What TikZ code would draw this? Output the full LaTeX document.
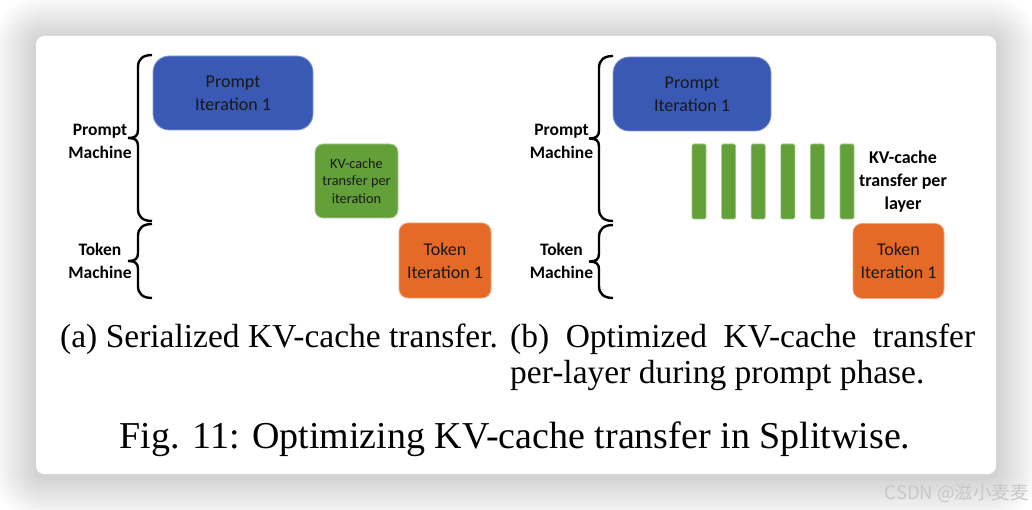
\documentclass[tikz,border=0pt]{standalone}
\usepackage{fontspec}
\setmainfont{Liberation Serif}
\newfontfamily\calibri{Carlito}
\newfontfamily\cjk{Noto Sans CJK SC}
\definecolor{pblue}{RGB}{57,89,180}
\definecolor{pgreen}{RGB}{99,160,57}
\definecolor{porange}{RGB}{229,105,39}
\definecolor{wmark}{RGB}{200,200,200}
\newcommand\drawbrace[3]{%
  \pgfmathsetmacro\brM{(#2+#3)/2}%
  \pgfmathsetmacro\brL{#1-14}%
  \pgfmathsetmacro\brC{#1-24}%
  \draw[bracestyle] (#1,#2) .. controls (#1-9,#2) and (\brL,#2+4) .. (\brL,#2+12)
    -- (\brL,\brM-8) .. controls (\brL,\brM-2) and (\brL-3,\brM) .. (\brC,\brM)
    .. controls (\brL-3,\brM) and (\brL,\brM+2) .. (\brL,\brM+8)
    -- (\brL,#3-12) .. controls (\brL,#3-4) and (#1-9,#3) .. (#1,#3);
}
\tikzset{
  box/.style={rectangle, align=center, inner sep=0pt, text=black!90,
    font=\calibri\fontsize{18}{22.7}\selectfont},
  bluebox/.style={box, fill=pblue, draw=pblue!60!white, line width=0.8pt,
    rounded corners=16pt, minimum height=74pt},
  orangebox/.style={box, fill=porange, draw=porange!60!white, line width=0.8pt,
    rounded corners=9pt, minimum height=75pt},
  greenbox/.style={box, fill=pgreen, draw=pgreen!55!white, line width=0.8pt,
    rounded corners=8pt, minimum width=83pt, minimum height=74pt,
    font=\calibri\fontsize{14.3}{17.5}\selectfont},
  barbox/.style={rectangle, fill=pgreen, draw=pgreen!60!white, line width=0.6pt,
    rounded corners=1.5pt, minimum width=14pt, minimum height=75pt, inner sep=0pt},
  machlabel/.style={align=center, inner sep=0pt,
    font=\calibri\bfseries\fontsize{17.5}{23}\selectfont},
  bracestyle/.style={line width=2.4pt, black},
  subcap/.style={inner sep=0pt, font=\fontsize{33.5}{36}\selectfont},
  figcap/.style={inner sep=0pt, font=\fontsize{38}{40}\selectfont},
}
\begin{document}
\begin{tikzpicture}[x=1pt,y=-1pt]
\useasboundingbox (0,0) rectangle (1032,510);
\fill[white] (0,0) rectangle (1032,510);
% shadow
\foreach \i in {1,...,44}{
  \fill[black, opacity=0.005, rounded corners={8+\i}] (36-\i,36-\i+3) rectangle (996+\i,474+\i+3);
}
% card
\fill[white, rounded corners=8pt] (36,36) rectangle (996,474);

% ---------- panel (a)
\node[bluebox, minimum width=160pt] (pa) at (233,93) {Prompt\\Iteration 1};
\node[greenbox] (ga) at (356.5,181) {KV-cache\\transfer per\\iteration};
\node[orangebox, minimum width=92pt] (ta) at (445,260.5) {Token\\Iteration 1};
\node[machlabel] (lpa) at (100,141) {Prompt\\Machine};
\node[machlabel] (lta) at (100,261) {Token\\Machine};
\drawbrace{152}{55}{221}
\drawbrace{152}{224}{298}

% ---------- panel (b)
\node[bluebox, minimum width=158pt] (pb) at (692,94) {Prompt\\Iteration 1};
\foreach \k in {0,...,5}{
  \node[barbox] (bar\k) at (699+29.6*\k,181.5) {};
}
\node[machlabel, font=\calibri\bfseries\fontsize{18}{23}\selectfont] (kvb) at (903,182) {KV-cache\\transfer per\\layer};
\node[orangebox, minimum width=91pt] (tb) at (898.5,261) {Token\\Iteration 1};
\node[machlabel] (lpb) at (561.5,141) {Prompt\\Machine};
\node[machlabel] (ltb) at (561.5,261) {Token\\Machine};
\drawbrace{613}{56}{221}
\drawbrace{613}{225}{298}

% ---------- captions
\node[subcap, anchor=base west] (capa) at (60,347) {(a) Serialized KV-cache transfer.};
\node[subcap, anchor=base west] (capb1) at (510,347) {\makebox[465pt][s]{(b) Optimized KV-cache transfer}};
\node[subcap, anchor=base west] (capb2) at (510,383) {per-layer during prompt phase.};
\node[figcap, anchor=base] (fig) at (515,448) {Fig. 11: Optimizing KV-cache transfer in Splitwise.};

% watermark
\node[anchor=base east, inner sep=0pt, text=wmark, font=\cjk\fontsize{18.5}{20}\selectfont] (wm) at (1029,499) {CSDN @滋小麦麦};
\end{tikzpicture}
\end{document}
